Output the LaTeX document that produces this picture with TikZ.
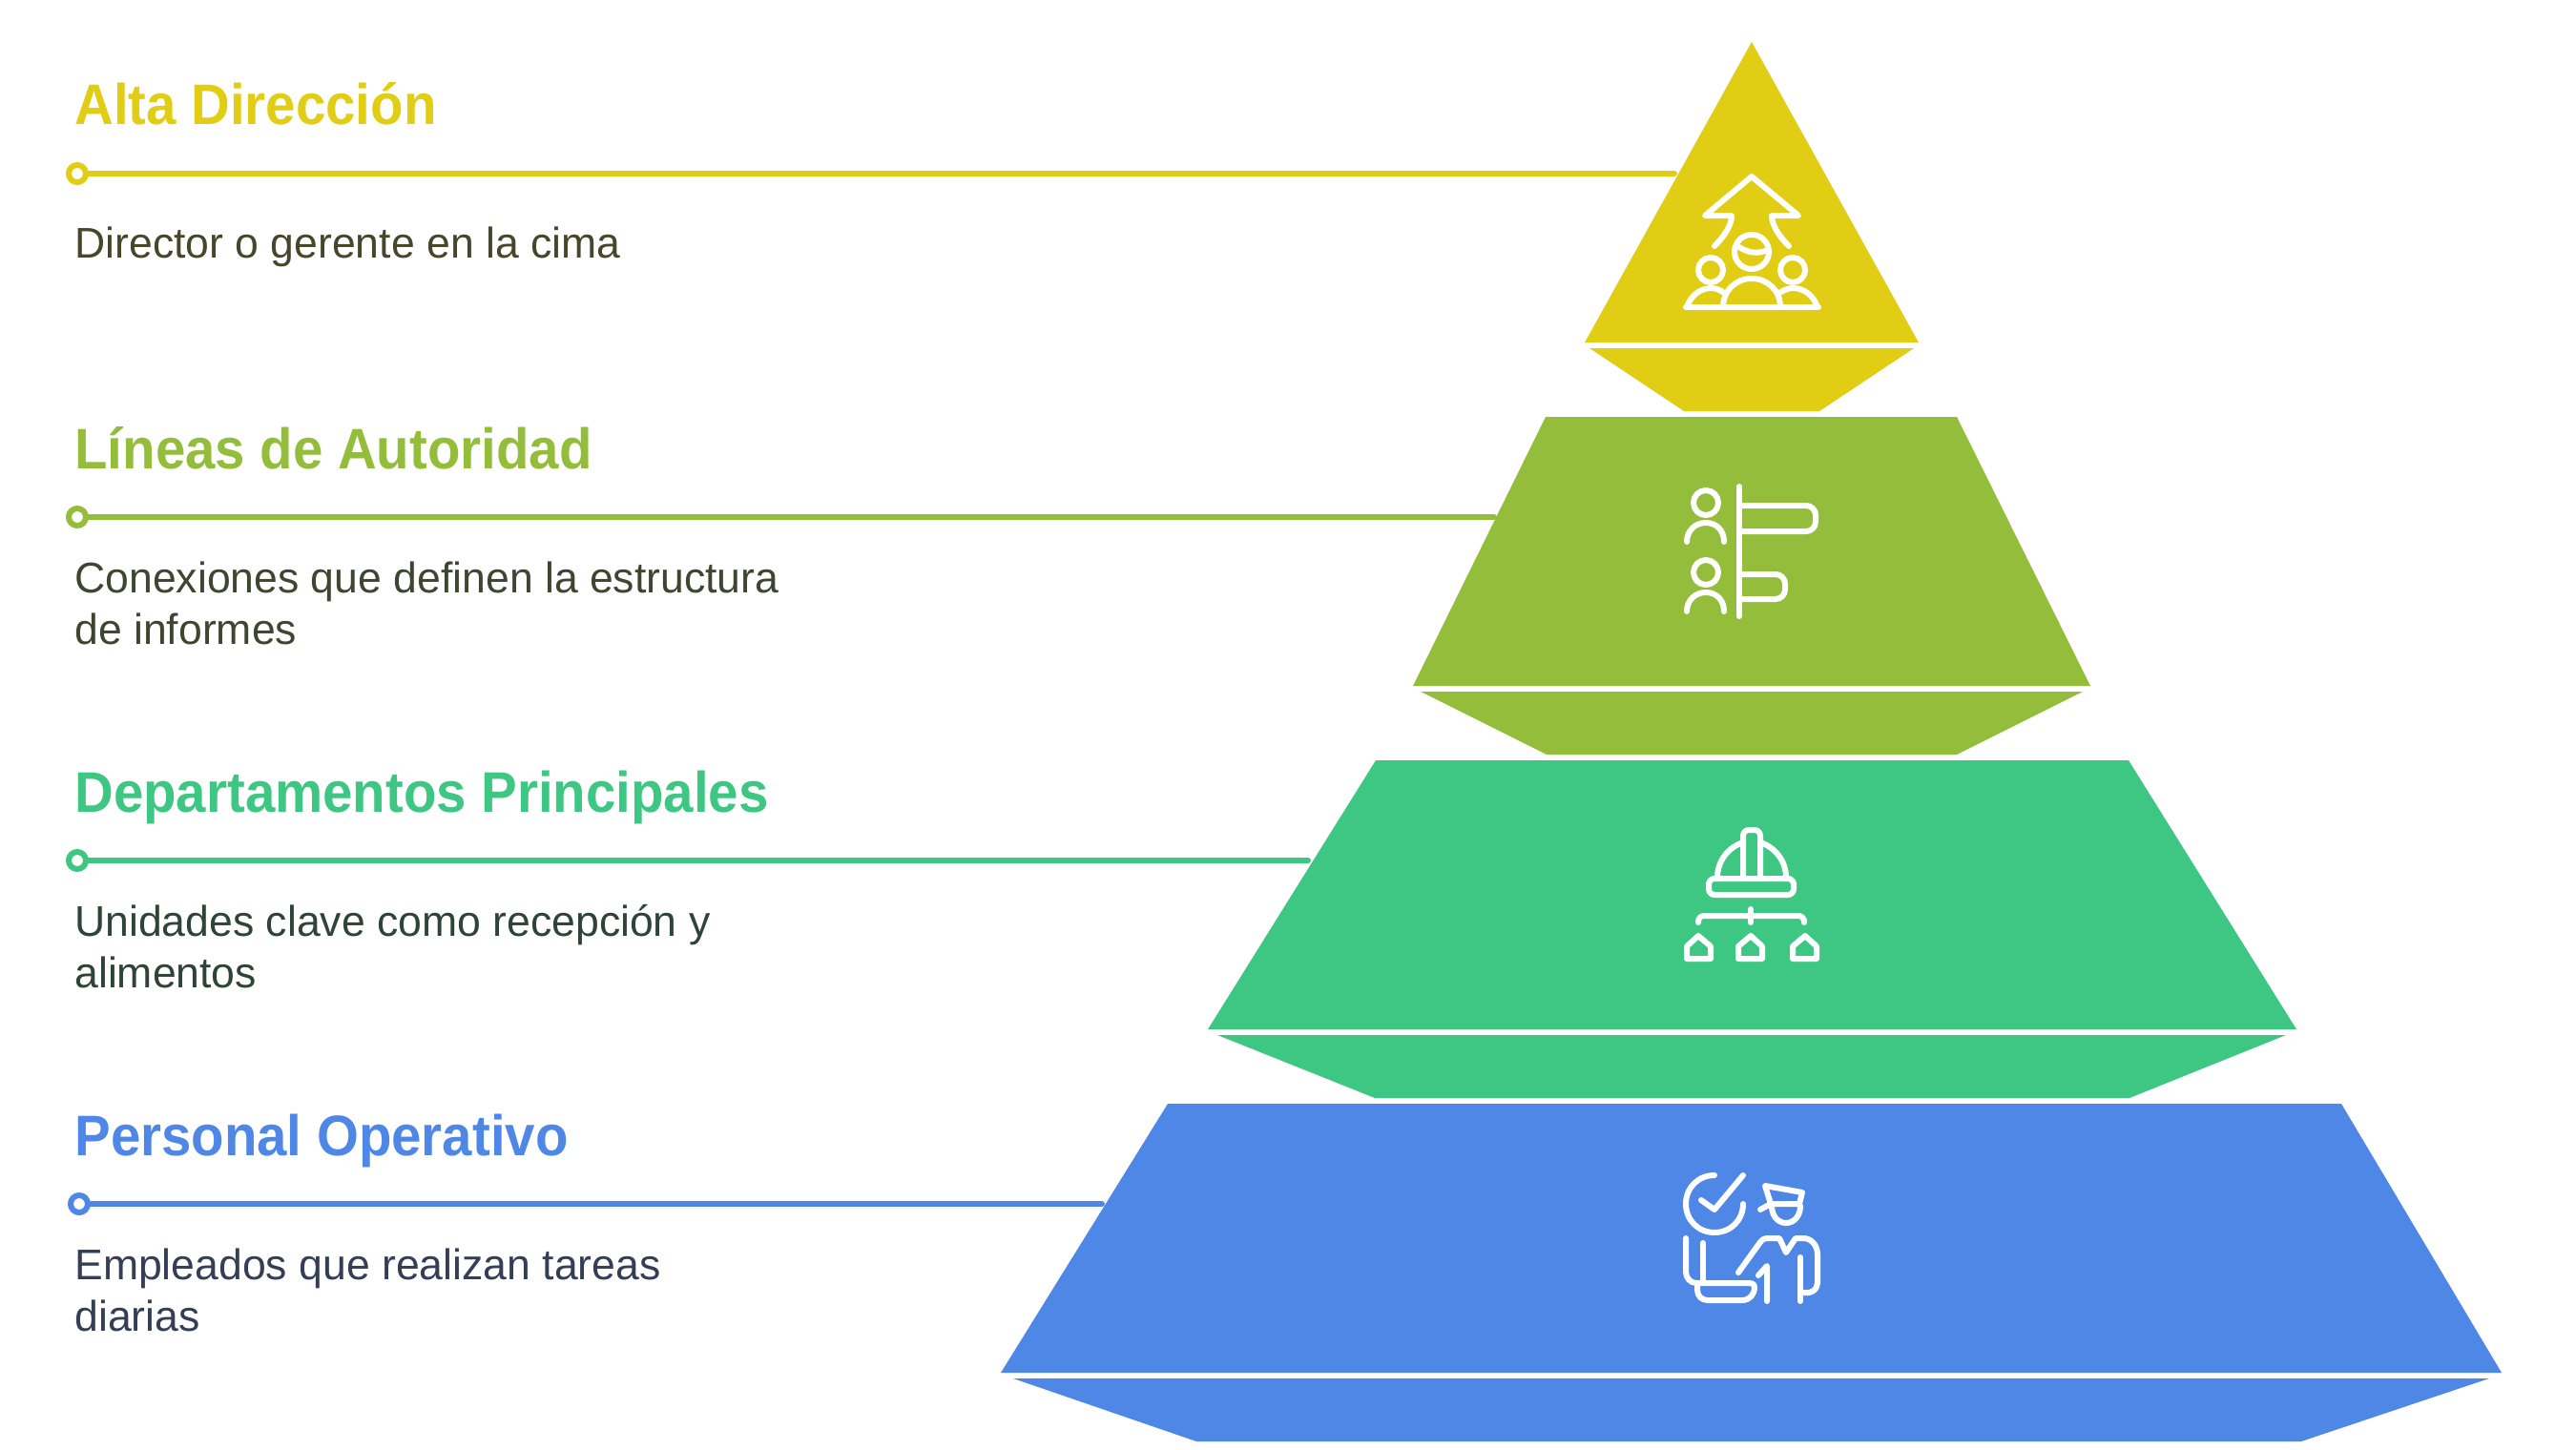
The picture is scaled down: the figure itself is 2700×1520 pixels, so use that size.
\documentclass[tikz,border=0pt]{standalone}
\usepackage{fontspec}
\setmainfont{Liberation Sans}
\newfontfamily\titlefont[FakeStretch=0.94]{Liberation Sans}
\newfontfamily\descfont[FakeStretch=0.99]{Liberation Sans}
\usetikzlibrary{positioning}
\definecolor{altac}{HTML}{E0CD14}
\definecolor{lineac}{HTML}{93BD3A}
\definecolor{deptc}{HTML}{3EC683}
\definecolor{persc}{HTML}{4E87E6}
\definecolor{altat}{HTML}{47462B}
\definecolor{lineat}{HTML}{3F4530}
\definecolor{deptt}{HTML}{2F4438}
\definecolor{perst}{HTML}{343F55}

\begin{document}
\begin{tikzpicture}[x=0.5pt, y=-0.5pt]
    % Define styles
    \tikzstyle{title} = [anchor=base west, inner sep=0pt, font=\titlefont\bfseries\fontsize{30}{30}\selectfont]
    \tikzstyle{desc} = [anchor=base west, inner sep=0pt, align=left, font=\descfont\fontsize{22.5}{27}\selectfont]
    \tikzstyle{dot} = [circle, draw, fill=white, line width=3pt, inner sep=0pt, minimum size=9pt]
    \tikzstyle{leader} = [draw, line width=3pt, line cap=round]
    \tikzstyle{icon} = [draw=white, line width=3pt, line cap=round, line join=round]

    \useasboundingbox (0,0) rectangle (2700,1520);

    % Draw pyramid
    \fill [altac] (1836,44) -- (2011,359) -- (1661,359) -- cycle;
    \fill [altac] (1666,365) -- (2006,365) -- (1907,431) -- (1765,431) -- cycle;
    \fill [lineac] (1620,437) -- (2051,437) -- (2191,719) -- (1481,719) -- cycle;
    \fill [lineac] (1489,725) -- (2183,725) -- (2051,791) -- (1621,791) -- cycle;
    \fill [deptc] (1442,797) -- (2231,797) -- (2407,1079) -- (1266,1079) -- cycle;
    \fill [deptc] (1276,1085) -- (2396,1085) -- (2232,1151) -- (1441,1151) -- cycle;
    \fill [persc] (1224,1157) -- (2454,1157) -- (2622,1439) -- (1049,1439) -- cycle;
    \fill [persc] (1062,1445) -- (2609,1445) -- (2412,1511) -- (1254,1511) -- cycle;

    % Define nodes
    \node [title, text=altac] (altatitle) at (78,131) {Alta Dirección};
    \node [dot, draw=altac] (altadot) at (81,182) {};
    \coordinate (altaend) at (1755,182);
    \node [desc, text=altat] (altadesc) at (78,270) {Director o gerente en la cima};

    \node [title, text=lineac] (lineatitle) at (78,491) {Líneas de Autoridad};
    \node [dot, draw=lineac] (lineadot) at (81,542) {};
    \coordinate (lineaend) at (1566,542);
    \node [desc, text=lineat] (lineadesc) at (78,675) {Conexiones que definen la estructura\\de informes};

    \node [title, text=deptc] (depttitle) at (78,851) {Departamentos Principales};
    \node [dot, draw=deptc] (deptdot) at (81,902) {};
    \coordinate (deptend) at (1371,902);
    \node [desc, text=deptt] (deptdesc) at (78,1035) {Unidades clave como recepción y\\alimentos};

    \node [title, text=persc] (perstitle) at (78,1211) {Personal Operativo};
    \node [dot, draw=persc] (persdot) at (83,1262) {};
    \coordinate (persend) at (1155,1262);
    \node [desc, text=perst] (persdesc) at (78,1395) {Empleados que realizan tareas\\diarias};

    % Draw edges
    \path [leader, draw=altac] (altadot) -- (altaend);
    \path [leader, draw=lineac] (lineadot) -- (lineaend);
    \path [leader, draw=deptc] (deptdot) -- (deptend);
    \path [leader, draw=persc] (persdot) -- (persend);

    % Icon top
    \draw [icon] (1797,258) .. controls (1807,248) and (1815,236) .. (1815,226) -- (1787,226) -- (1836,185) -- (1885,226) -- (1857,226) .. controls (1857,236) and (1865,248) .. (1875,258);
    \draw [icon] (1836,264) circle (18);
    \draw [icon] (1823,259) .. controls (1832,265) and (1842,266) .. (1850,263);
    \draw [icon] (1793,283) circle (13);
    \draw [icon] (1879,283) circle (13);
    \draw [icon] (1767,322) -- (1906,322);
    \draw [icon] (1806,322) .. controls (1806,304) and (1820,292) .. (1836,292) .. controls (1852,292) and (1866,304) .. (1866,322);
    \draw [icon] (1768,322) .. controls (1772,310) and (1782,302) .. (1794,302) .. controls (1798,302) and (1803,304) .. (1807,307);
    \draw [icon] (1905,322) .. controls (1901,310) and (1891,302) .. (1879,302) .. controls (1875,302) and (1870,304) .. (1865,307);

    % Icon second
    \draw [icon] (1823,510) -- (1823,646);
    \draw [icon, rounded corners=5pt] (1823,530) -- (1903,530) -- (1903,557) -- (1823,557);
    \draw [icon, rounded corners=5pt] (1823,602) -- (1871,602) -- (1871,628) -- (1823,628);
    \draw [icon] (1788,527) circle (13);
    \draw [icon] (1788,600) circle (13);
    \draw [icon] (1768,568) .. controls (1768,556) and (1777,548) .. (1788,548) .. controls (1799,548) and (1807,556) .. (1807,568);
    \draw [icon] (1768,641) .. controls (1768,629) and (1777,621) .. (1788,621) .. controls (1799,621) and (1807,629) .. (1807,641);

    % Icon third
    \draw [icon] (1800,920) .. controls (1800,902) and (1812,888) .. (1827,883);
    \draw [icon] (1872,920) .. controls (1872,902) and (1860,888) .. (1845,883);
    \draw [icon, rounded corners=3pt] (1827,920) -- (1827,870) -- (1845,870) -- (1845,920);
    \draw [icon, rounded corners=3pt] (1791,921) rectangle (1880,938);
    \draw [icon, rounded corners=3pt] (1780,967) -- (1780,960) -- (1891,960) -- (1891,967);
    \draw [icon] (1835,953) -- (1835,967);
    \draw [icon] (1768,1005) -- (1768,992) -- (1780,981) -- (1793,992) -- (1793,1005) -- cycle;
    \draw [icon] (1822,1005) -- (1822,992) -- (1835,981) -- (1847,992) -- (1847,1005) -- cycle;
    \draw [icon] (1879,1005) -- (1879,992) -- (1892,981) -- (1904,992) -- (1904,1005) -- cycle;

    % Icon bottom
    \draw [icon] (1797,1232) .. controls (1780,1232) and (1767,1245) .. (1767,1262) .. controls (1767,1279) and (1780,1292) .. (1797,1292) .. controls (1814,1292) and (1827,1279) .. (1827,1262);
    \draw [icon] (1783,1258) -- (1797,1268) -- (1827,1232);
    \draw [icon] (1850,1243) -- (1889,1250) -- (1886,1262) -- (1856,1262) -- cycle;
    \draw [icon] (1845,1268) -- (1856,1262);
    \draw [icon] (1857,1264) .. controls (1857,1274) and (1863,1282) .. (1872,1282) .. controls (1881,1282) and (1887,1274) .. (1887,1264);
    \draw [icon] (1822,1334) -- (1845,1302) .. controls (1848,1298) and (1851,1298) .. (1855,1298) -- (1865,1298) -- (1872,1313) -- (1882,1298) -- (1890,1298) .. controls (1899,1298) and (1905,1306) .. (1905,1315) -- (1905,1345) .. controls (1905,1352) and (1897,1358) .. (1887,1354);
    \draw [icon] (1887,1318) -- (1887,1364);
    \draw [icon] (1767,1298) -- (1767,1333) .. controls (1767,1340) and (1772,1345) .. (1778,1345) -- (1832,1345) .. controls (1836,1345) and (1839,1346) .. (1839,1349);
    \draw [icon] (1785,1303) -- (1785,1345);
    \draw [icon] (1779,1347) -- (1779,1352) .. controls (1779,1359) and (1784,1363) .. (1790,1363) -- (1826,1363) .. controls (1834,1363) and (1839,1357) .. (1839,1349);
    \draw [icon] (1843,1337) -- (1852,1327) -- (1852,1364);
\end{tikzpicture}
\end{document}
